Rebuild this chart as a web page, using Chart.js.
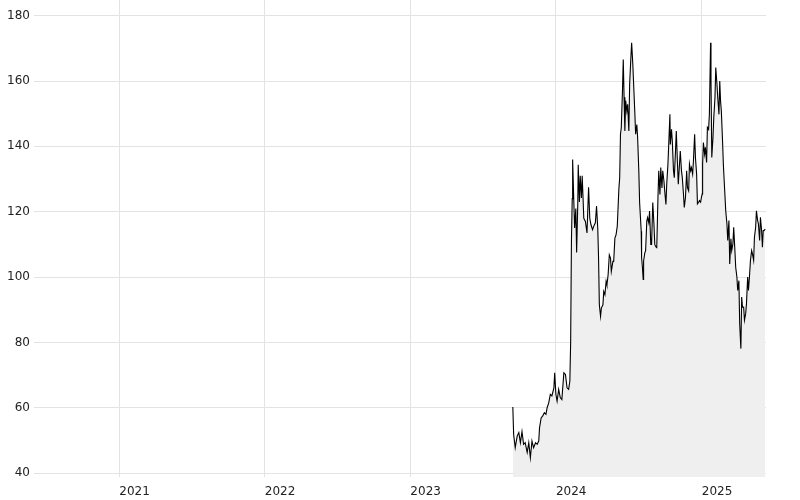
<!DOCTYPE html>
<html>
<head>
<meta charset="utf-8">
<script src="https://cdn.jsdelivr.net/npm/chart.js@4/dist/chart.umd.min.js"></script>
<style>
  html, body { margin: 0; padding: 0; background: #fff; }
  #wrap { width: 800px; height: 500px; }
</style>
</head>
<body>
<div id="wrap"><canvas id="priceChart"></canvas></div>
<script>
// price history
const dates = [
  '2023-09-15','2023-09-17','2023-09-21','2023-09-26','2023-09-30','2023-10-04','2023-10-08','2023-10-12',
  '2023-10-16','2023-10-21','2023-10-25','2023-10-29','2023-11-02','2023-11-06','2023-11-11','2023-11-15',
  '2023-11-19','2023-11-21','2023-11-25','2023-11-29','2023-12-03','2023-12-07','2023-12-10','2023-12-14',
  '2023-12-18','2023-12-22','2023-12-27','2023-12-29','2024-01-01','2024-01-04','2024-01-08','2024-01-12',
  '2024-01-16','2024-01-21','2024-01-25','2024-01-29','2024-02-02','2024-02-05','2024-02-07','2024-02-09',
  '2024-02-11','2024-02-12','2024-02-15','2024-02-17','2024-02-20','2024-02-22','2024-02-25','2024-02-26',
  '2024-02-29','2024-03-02','2024-03-05','2024-03-07','2024-03-11','2024-03-15','2024-03-19','2024-03-23',
  '2024-03-26','2024-03-29','2024-04-02','2024-04-05','2024-04-09','2024-04-12','2024-04-15','2024-04-17',
  '2024-04-19','2024-04-22','2024-04-24','2024-04-28','2024-04-30','2024-05-03','2024-05-06','2024-05-08',
  '2024-05-11','2024-05-14','2024-05-17','2024-05-19','2024-05-23','2024-05-25','2024-05-28','2024-05-31',
  '2024-06-03','2024-06-07','2024-06-09','2024-06-11','2024-06-13','2024-06-16','2024-06-18','2024-06-20',
  '2024-06-22','2024-06-24','2024-06-27','2024-06-29','2024-07-02','2024-07-04','2024-07-07','2024-07-09',
  '2024-07-12','2024-07-14','2024-07-17','2024-07-19','2024-07-22','2024-07-24','2024-07-27','2024-07-29',
  '2024-08-02','2024-08-03','2024-08-05','2024-08-07','2024-08-08','2024-08-11','2024-08-13','2024-08-16',
  '2024-08-18','2024-08-21','2024-08-23','2024-08-26','2024-08-28','2024-08-31','2024-09-03','2024-09-05',
  '2024-09-08','2024-09-10','2024-09-13','2024-09-15','2024-09-18','2024-09-20','2024-09-23','2024-09-25',
  '2024-09-28','2024-09-30','2024-10-03','2024-10-05','2024-10-08','2024-10-10','2024-10-13','2024-10-14',
  '2024-10-17','2024-10-19','2024-10-22','2024-10-24','2024-10-27','2024-10-29','2024-11-01','2024-11-03',
  '2024-11-06','2024-11-08','2024-11-11','2024-11-13','2024-11-16','2024-11-18','2024-11-21','2024-11-24',
  '2024-11-26','2024-11-29','2024-12-01','2024-12-04','2024-12-06','2024-12-09','2024-12-11','2024-12-14',
  '2024-12-16','2024-12-19','2024-12-21','2024-12-24','2024-12-26','2024-12-29','2024-12-31','2025-01-02',
  '2025-01-03','2025-01-05','2025-01-08','2025-01-10','2025-01-13','2025-01-15','2025-01-18','2025-01-20',
  '2025-01-23','2025-01-24','2025-01-26','2025-01-29','2025-01-31','2025-02-03','2025-02-05','2025-02-08',
  '2025-02-10','2025-02-13','2025-02-15','2025-02-17','2025-02-19','2025-02-22','2025-02-24','2025-02-27',
  '2025-03-02','2025-03-05','2025-03-07','2025-03-10','2025-03-12','2025-03-15','2025-03-17','2025-03-20',
  '2025-03-22','2025-03-25','2025-03-27','2025-03-30','2025-04-01','2025-04-04','2025-04-06','2025-04-09',
  '2025-04-11','2025-04-13','2025-04-16','2025-04-18','2025-04-21','2025-04-23','2025-04-26','2025-04-28',
  '2025-05-01','2025-05-03','2025-05-06','2025-05-08','2025-05-11','2025-05-13','2025-05-16','2025-05-18',
  '2025-05-21','2025-05-23','2025-05-26','2025-05-28','2025-05-31','2025-06-02','2025-06-04','2025-06-06',
  '2025-06-09'
];

const prices = [
  60.2, 51.9, 47.8, 51.4, 52.4, 49.3, 52.7, 48.8,
  49.3, 46.3, 49.3, 44.7, 49.8, 47.8, 49.3, 48.8,
  49.8, 53.9, 56.9, 57.5, 58.5, 58.0, 60.0, 61.5,
  64.1, 63.6, 66.1, 70.7, 64.1, 62.0, 65.6, 63.1,
  62.5, 70.7, 70.2, 66.1, 65.6, 68.1, 80.0, 111.0,
  124.0, 136.0, 123.0, 115.0, 121.0, 107.5, 123.0, 134.4,
  123.0, 131.0, 124.2, 131.0, 118.0, 117.0, 113.5, 127.5,
  118.0, 116.0, 114.5, 115.6, 116.6, 121.7, 115.0, 106.0,
  91.5, 88.0, 90.5, 91.5, 95.6, 94.6, 98.7, 97.6,
  100.7, 106.8, 105.8, 101.7, 104.8, 104.8, 111.9, 113.0,
  115.6, 127.0, 130.4, 143.7, 145.7, 157.0, 166.6, 155.0,
  144.7, 154.0, 150.8, 152.9, 144.7, 159.0, 167.0, 171.7,
  165.0, 159.0, 150.3, 143.7, 146.7, 142.7, 132.5, 122.8,
  114.0, 106.0, 102.9, 99.3, 104.9, 107.4, 108.0, 117.1,
  118.2, 116.6, 120.2, 110.0, 110.0, 122.8, 116.1, 110.0,
  109.2, 109.0, 124.3, 132.5, 125.3, 133.5, 127.3, 132.5,
  129.4, 126.3, 122.2, 128.4, 134.5, 140.6, 149.8, 140.6,
  145.2, 141.6, 132.5, 130.4, 138.6, 144.7, 134.5, 128.4,
  134.5, 138.6, 132.5, 130.5, 125.4, 121.3, 124.4, 132.5,
  127.4, 126.4, 134.6, 132.5, 133.5, 131.5, 135.6, 143.7,
  136.6, 131.5, 122.4, 122.9, 123.4, 122.9, 124.4, 125.4,
  134.6, 141.2, 137.6, 139.7, 135.1, 145.8, 145.2, 149.8,
  171.7, 161.0, 136.6, 142.7, 148.8, 154.9, 164.1, 159.0,
  154.9, 149.8, 160.0, 153.9, 150.8, 141.7, 134.6, 127.4,
  120.3, 116.3, 111.2, 117.3, 104.0, 111.7, 108.1, 110.2,
  115.2, 108.1, 103.0, 100.0, 95.9, 98.9, 85.7, 78.1,
  93.9, 90.8, 90.8, 86.8, 88.8, 91.8, 100.0, 95.9,
  101.0, 105.1, 108.1, 107.1, 105.1, 112.2, 115.2, 120.3,
  117.3, 116.3, 111.2, 118.3, 114.2, 109.1, 114.2, 114.2,
  114.7
];

const yearTicks = [2021, 2022, 2023, 2024, 2025];
const priceTicks = [40, 60, 80, 100, 120, 140, 160, 180];

const xStart = Date.parse('2020-06-01');
const xEnd = Date.parse('2025-06-11');
const yMin = 38.8;
const yMax = 184.8;

window.onload = function () {
    Chart.defaults.font.family = "'DejaVu Sans', Verdana, sans-serif";
    Chart.defaults.font.size = 12;
    Chart.defaults.color = '#222';

    const points = dates.map((d, i) => ({ x: Date.parse(d), y: prices[i] }));
    const ctx = document.getElementById('priceChart');

    // no extra room for half-labels at the edges of the plot
    const noEdgePadding = (scale) => {
        scale.paddingTop = 0;
        scale.paddingBottom = 0;
        scale.paddingLeft = 0;
        scale.paddingRight = 0;
    };

    new Chart(ctx, {
        type: 'line',
        data: {
            datasets: [
                {
                    data: points,
                    borderColor: '#000',
                    borderWidth: 1.1,
                    backgroundColor: '#efefef',
                    fill: 'start',
                    pointRadius: 0,
                    tension: 0,
                },
            ],
        },
        options: {
            responsive: true,
            maintainAspectRatio: false,
            animation: false,
            layout: { padding: { top: 0, right: 34, bottom: 0, left: 0 } },
            plugins: {
                legend: { display: false },
                tooltip: { enabled: false },
            },
            scales: {
                x: {
                    type: 'linear',
                    min: xStart,
                    max: xEnd,
                    border: { display: false },
                    grid: { color: '#e3e3e3', drawTicks: false },
                    afterBuildTicks: (scale) => {
                        scale.ticks = yearTicks.map((y) => ({ value: Date.UTC(y, 0, 1) }));
                    },
                    afterFit: (scale) => { scale.height = 23; noEdgePadding(scale); },
                    ticks: {
                        align: 'start',
                        padding: 8,
                        maxRotation: 0,
                        autoSkip: false,
                        callback: (value) => String(new Date(value).getUTCFullYear()),
                    },
                },
                y: {
                    min: yMin,
                    max: yMax,
                    border: { display: false },
                    grid: { color: '#e3e3e3', drawTicks: false },
                    afterBuildTicks: (scale) => {
                        scale.ticks = priceTicks.map((v) => ({ value: v }));
                    },
                    afterFit: (scale) => { scale.width = 34; noEdgePadding(scale); },
                    ticks: { padding: 4 },
                },
            },
        },
    });
};
</script>
</body>
</html>
